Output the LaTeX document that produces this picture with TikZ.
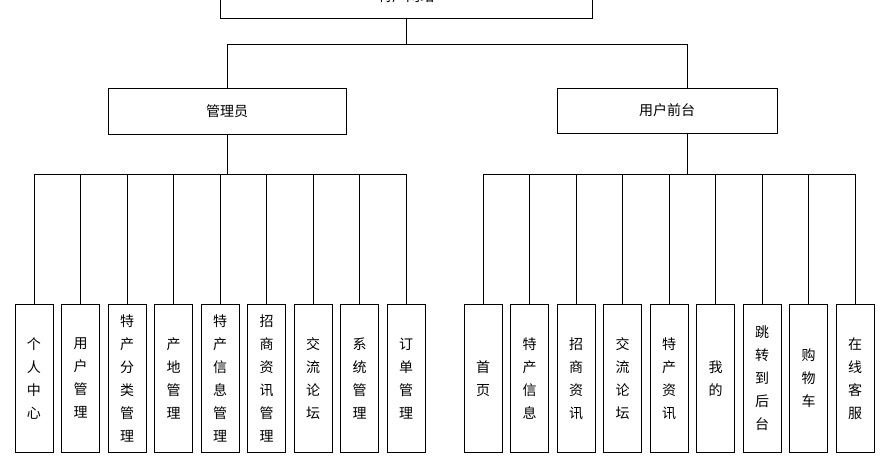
\documentclass[tikz,border=0pt]{standalone}
\usepackage{fontspec}
\setmainfont{Noto Sans CJK SC}
\begin{document}
\begin{tikzpicture}[x=1pt,y=-1pt,line width=0.8pt,
  box/.style={draw,fill=white,inner sep=0pt,font=\fontsize{14}{14}\selectfont},
  leaf/.style={draw,fill=white,minimum width=38pt,minimum height=148pt,anchor=north,inner sep=0pt,align=center,font=\fontsize{14}{23}\selectfont}]
\useasboundingbox (0,0) rectangle (880,465);
\begin{scope}
\clip (0,0) rectangle (880,465);
\node[box,minimum width=372pt,minimum height=40pt] (top) at (406,-2) {};
\node[font=\fontsize{14}{14}\selectfont] (tt) at (406,-4) {特产网站};
\end{scope}
\node[box,minimum width=238pt,minimum height=46pt] (a) at (227,111) {管理员};
\node[box,minimum width=220pt,minimum height=45pt] (u) at (667,110.5) {用户前台};
\draw (406,18) -- (406,44) -- (227,44) -- (a.north);
\draw (406,44) -- (687,44) -- (687,88);
\coordinate (ab) at (227,174);
\draw (a.south) -- (ab);
\coordinate (ub) at (687,174);
\draw (687,133) -- (ub);
\foreach \t [count=\i] in {个\\人\\中\\心,用\\户\\管\\理,特\\产\\分\\类\\管\\理,产\\地\\管\\理,特\\产\\信\\息\\管\\理,招\\商\\资\\讯\\管\\理,交\\流\\论\\坛,系\\统\\管\\理,订\\单\\管\\理}{
  \pgfmathsetmacro\xx{34+(\i-1)*46.5}
  \node[leaf] (l\i) at (\xx,304) {\t};
  \draw (\xx,174) -- (l\i.north);
}
\draw (34,174) -- (406,174);
\foreach \t [count=\i] in {首\\页,特\\产\\信\\息,招\\商\\资\\讯,交\\流\\论\\坛,特\\产\\资\\讯,我\\的,跳\\转\\到\\后\\台,购\\物\\车,在\\线\\客\\服}{
  \pgfmathsetmacro\xx{483+(\i-1)*46.5}
  \node[leaf] (r\i) at (\xx,304) {\t};
  \draw (\xx,174) -- (r\i.north);
}
\draw (483,174) -- (855,174);
\end{tikzpicture}
\end{document}
